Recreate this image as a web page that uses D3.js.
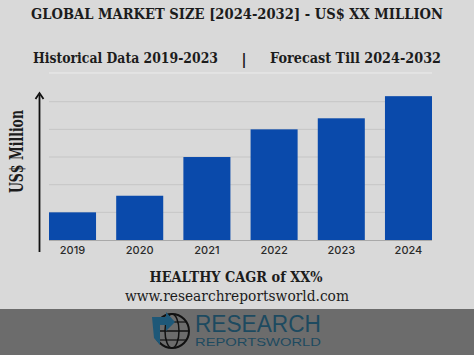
<!DOCTYPE html>
<html><head><meta charset="utf-8">
<script src="https://cdn.jsdelivr.net/npm/d3@7"></script>
<style>html,body{margin:0;padding:0;background:#d9d9d9;}svg{display:block;}</style>
</head><body>
<script>
const years = ["2019","2020","2021","2022","2023","2024"];
const values = [1.0, 1.6, 3.0, 4.0, 4.4, 5.2];
const gridTicks = [0, 1, 2, 3, 4, 5];

const W = 474, H = 355;
const svg = d3.select("body").append("svg").attr("width", W).attr("height", H);
svg.append("rect").attr("width", W).attr("height", H).attr("fill", "#d9d9d9");

const serif = "'DejaVu Serif', 'Liberation Serif', serif";
const sans = "Inter, Roboto, 'Noto Sans', sans-serif";

// Title
svg.append("text").attr("x", 237).attr("y", 19).attr("text-anchor", "middle")
  .attr("font-family", serif).attr("font-weight", "bold").attr("font-size", 14)
  .attr("fill", "#1c1c1c").attr("textLength", 412).attr("lengthAdjust", "spacingAndGlyphs")
  .text("GLOBAL MARKET SIZE [2024-2032] - US$ XX MILLION");

// Subtitle
svg.append("text").attr("x", 33).attr("y", 63)
  .attr("font-family", serif).attr("font-weight", "bold").attr("font-size", 14)
  .attr("fill", "#1c1c1c").attr("textLength", 185).attr("lengthAdjust", "spacingAndGlyphs")
  .text("Historical Data 2019-2023");
svg.append("text").attr("x", 244).attr("y", 64).attr("text-anchor", "middle")
  .attr("font-family", serif).attr("font-weight", "bold").attr("font-size", 15)
  .attr("fill", "#1c1c1c").text("|");
svg.append("text").attr("x", 270).attr("y", 63)
  .attr("font-family", serif).attr("font-weight", "bold").attr("font-size", 14)
  .attr("fill", "#1c1c1c").attr("textLength", 171).attr("lengthAdjust", "spacingAndGlyphs")
  .text("Forecast Till 2024-2032");
svg.append("line").attr("x1", 49).attr("x2", 432).attr("y1", 73).attr("y2", 73)
  .attr("stroke", "#ececec").attr("stroke-width", 1);

// Scales
const x = d3.scaleBand().domain(years).range([49, 432]).paddingInner(0.3).paddingOuter(0);
const y = d3.scaleLinear().domain([0, 5]).range([240, 101.7]);

// Gridlines
svg.append("g").selectAll("line").data(gridTicks.filter(d => d > 0)).join("line")
  .attr("x1", 49).attr("x2", 432)
  .attr("y1", d => y(d)).attr("y2", d => y(d))
  .attr("stroke", "#c6c6c6").attr("stroke-width", 1);

// Bars
svg.append("g").selectAll("rect").data(years).join("rect")
  .attr("x", d => x(d)).attr("width", x.bandwidth())
  .attr("y", (d, i) => y(values[i])).attr("height", (d, i) => y(0) - y(values[i]))
  .attr("fill", "#0a4aab");

// Baseline
svg.append("line").attr("x1", 49).attr("x2", 432).attr("y1", y(0) + 0.5).attr("y2", y(0) + 0.5)
  .attr("stroke", "#a9a9a9").attr("stroke-width", 1.2);

// X axis labels
const xAxis = d3.axisBottom(x).tickSize(0).tickPadding(6);
const gx = svg.append("g").attr("transform", `translate(0,${y(0)})`).call(xAxis);
gx.select(".domain").remove();
gx.selectAll("text").attr("font-family", sans).attr("font-size", 11).attr("font-weight", 500)
  .attr("fill", "#2a2a2a");

// Vertical arrow axis
svg.append("line").attr("x1", 39.5).attr("x2", 39.5).attr("y1", 95).attr("y2", 252)
  .attr("stroke", "#111").attr("stroke-width", 1.8);
svg.append("path").attr("d", "M35.5,99 L39.5,93 L43.5,99").attr("fill", "none")
  .attr("stroke", "#111").attr("stroke-width", 1.8);

// Y label
svg.append("text").attr("transform", "translate(23,151.5) rotate(-90)").attr("text-anchor", "middle")
  .attr("font-family", serif).attr("font-weight", "bold").attr("font-size", 18)
  .attr("fill", "#1c1c1c").attr("textLength", 83).attr("lengthAdjust", "spacingAndGlyphs")
  .text("US$ Million");

// CAGR & URL
svg.append("text").attr("x", 236).attr("y", 282).attr("text-anchor", "middle")
  .attr("font-family", serif).attr("font-weight", "bold").attr("font-size", 14)
  .attr("fill", "#1c1c1c").attr("textLength", 173).attr("lengthAdjust", "spacingAndGlyphs")
  .text("HEALTHY CAGR of XX%");
svg.append("text").attr("x", 237).attr("y", 301).attr("text-anchor", "middle")
  .attr("font-family", serif).attr("font-size", 14)
  .attr("fill", "#1c1c1c").attr("textLength", 224).attr("lengthAdjust", "spacingAndGlyphs")
  .text("www.researchreportsworld.com");

// Bottom band
svg.append("rect").attr("x", 0).attr("y", 309).attr("width", W).attr("height", H - 309).attr("fill", "#6c6c6c");

// Logo globe
const logo = svg.append("g");
logo.append("circle").attr("cx", 172).attr("cy", 331).attr("r", 17)
  .attr("fill", "none").attr("stroke", "#111").attr("stroke-width", 2);
logo.append("ellipse").attr("cx", 172).attr("cy", 331).attr("rx", 7).attr("ry", 17)
  .attr("fill", "none").attr("stroke", "#111").attr("stroke-width", 1.5);
logo.append("line").attr("x1", 155).attr("x2", 189).attr("y1", 331).attr("y2", 331).attr("stroke", "#111").attr("stroke-width", 1.5);
logo.append("line").attr("x1", 158).attr("x2", 186).attr("y1", 322).attr("y2", 322).attr("stroke", "#111").attr("stroke-width", 1.2);
logo.append("line").attr("x1", 158).attr("x2", 186).attr("y1", 340).attr("y2", 340).attr("stroke", "#111").attr("stroke-width", 1.2);
logo.append("path").attr("d", "M152,317 L166,317 L166,312 L175,322 L166,331 L166,325 L160,325 L160,345 L154,338 Z")
  .attr("fill", "#1e5878");

svg.append("text").attr("x", 195).attr("y", 332)
  .attr("font-family", "'Liberation Sans', Arial, sans-serif").attr("font-size", 23)
  .attr("fill", "#1d4a60").attr("textLength", 126).attr("lengthAdjust", "spacingAndGlyphs")
  .text("RESEARCH");
svg.append("text").attr("x", 195).attr("y", 346)
  .attr("font-family", "'Liberation Sans', Arial, sans-serif").attr("font-size", 10)
  .attr("fill", "#1d4a60").attr("textLength", 126).attr("lengthAdjust", "spacingAndGlyphs")
  .text("REPORTSWORLD");
</script>
</body></html>
